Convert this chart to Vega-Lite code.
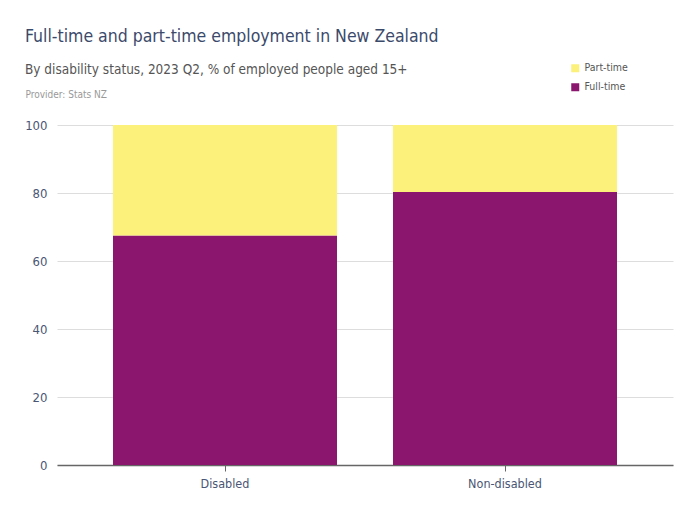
{
  "$schema": "https://vega.github.io/schema/vega-lite/v6.json",
  "width": 616,
  "height": 340,
  "autosize": {"type": "none"},
  "padding": {"left": 57, "top": 125, "right": 27, "bottom": 60},
  "background": "white",
  "title": {
    "text": "Full-time and part-time employment in New Zealand",
    "subtitle": "By disability status, 2023 Q2, % of employed people aged 15+",
    "anchor": "start",
    "frame": "group",
    "dx": -32,
    "offset": -13,
    "font": "DejaVu Sans Condensed, Roboto, sans-serif",
    "fontSize": 17.5,
    "fontWeight": "normal",
    "color": "#3b4a6b",
    "subtitleFont": "DejaVu Sans Condensed, Roboto, sans-serif",
    "subtitleFontSize": 13.5,
    "subtitleColor": "#555555",
    "subtitlePadding": 17
  },
  "data": {
    "values": [
      {"status": "Disabled", "type": "Full-time", "value": 67.5},
      {"status": "Disabled", "type": "Part-time", "value": 32.5},
      {"status": "Non-disabled", "type": "Full-time", "value": 80.3},
      {"status": "Non-disabled", "type": "Part-time", "value": 19.7}
    ]
  },
  "layer": [
    {
      "mark": {"type": "bar"},
      "encoding": {
        "x": {
          "field": "status",
          "type": "nominal",
          "scale": {"paddingInner": 0.2, "paddingOuter": 0.2},
          "axis": {
            "title": null,
            "labelAngle": 0,
            "labelFont": "DejaVu Sans Condensed, Roboto, sans-serif",
            "labelFontSize": 12.5,
            "labelColor": "#4a5674",
            "labelPadding": 6,
            "domainColor": "#666666",
            "domainWidth": 1.5,
            "tickColor": "#666666",
            "tickSize": 6,
            "grid": false
          }
        },
        "y": {
          "field": "value",
          "type": "quantitative",
          "stack": "zero",
          "scale": {"domain": [0, 100]},
          "axis": {
            "title": "Provider: Stats NZ",
            "titleAngle": 0,
            "titleX": -32,
            "titleY": -31,
            "titleAlign": "left",
            "titleBaseline": "middle",
            "titleFont": "DejaVu Sans Condensed, Roboto, sans-serif",
            "titleFontSize": 10,
            "titleFontWeight": "normal",
            "titleColor": "#999999",
            "values": [0, 20, 40, 60, 80, 100],
            "domain": false,
            "ticks": false,
            "labelFont": "DejaVu Sans Condensed, Roboto, sans-serif",
            "labelFontSize": 13,
            "labelColor": "#4a5674",
            "labelPadding": 10,
            "gridColor": "#dddddd",
            "gridWidth": 1
          }
        },
        "color": {
          "field": "type",
          "type": "nominal",
          "scale": {"domain": ["Part-time", "Full-time"], "range": ["#fbf17b", "#8a166e"]},
          "legend": {
            "title": null,
            "orient": "none",
            "legendX": 513,
            "legendY": -62,
            "symbolType": "square",
            "symbolSize": 64,
            "symbolStrokeWidth": 0,
            "labelFont": "DejaVu Sans Condensed, Roboto, sans-serif",
            "labelFontSize": 10.5,
            "labelColor": "#555555",
            "rowPadding": 8
          }
        },
        "order": {"field": "type", "sort": "ascending"}
      }
    }
  ],
  "config": {
    "view": {"stroke": null}
  }
}
